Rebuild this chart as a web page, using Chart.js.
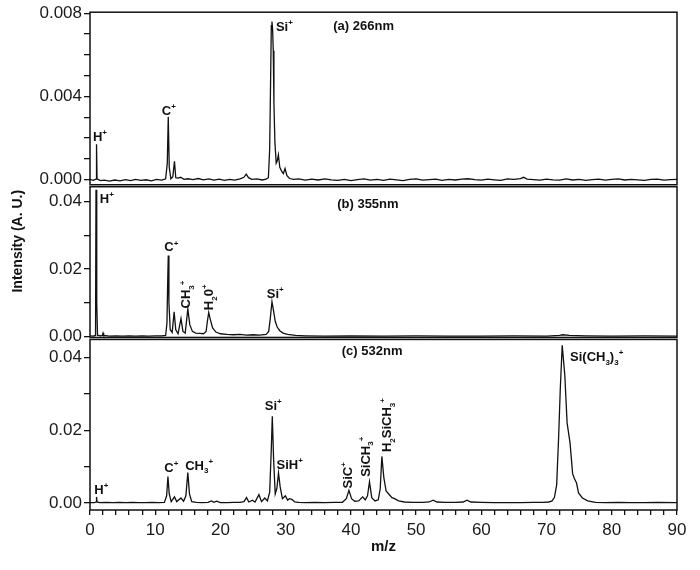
<!DOCTYPE html>
<html>
<head>
<meta charset="utf-8">
<script src="https://cdn.jsdelivr.net/npm/chart.js@4.4.0/dist/chart.umd.min.js"></script>
<style>
  html, body { margin: 0; padding: 0; background: #fff; }
  #wrap { width: 700px; height: 570px; }
</style>
</head>
<body>
<div id="wrap"><canvas id="spectra"></canvas></div>
<script>
// mass spectra [m/z, intensity]
const spectrum266 = [
  [0,0.00002],[0.5,-0.00003],[0.92,0.00003],[1.0,0.00171],[1.08,0.00004],[1.6,-0.00004],[2.2,-0.00002],[3.0,-0.00006],
  [3.8,-0.00001],[4.6,-0.00005],[5.4,0.00001],[6.2,-0.00004],[7.0,0.00002],[7.8,-0.00003],[8.6,0.0],[9.4,-0.00005],
  [10.2,0.00002],[11.0,-0.00002],[11.6,0.00005],[11.85,0.0008],[12.0,0.00303],[12.15,0.0006],[12.4,0.00005],[12.7,0.00015],
  [12.95,0.00089],[13.15,0.0001],[13.5,0.00008],[13.9,0.00012],[14.4,0.00002],[15.0,0.00005],[15.8,0.00001],[16.6,0.00006],
  [17.4,0.0],[18.2,0.00004],[19.0,-0.00002],[19.8,0.00003],[20.6,-0.00003],[21.4,0.00002],[22.2,-0.00002],[23.0,0.00004],
  [23.6,0.00012],[23.95,0.00027],[24.3,0.0001],[24.8,0.00002],[25.6,0.00004],[26.4,-0.00001],[27.0,0.00003],[27.35,0.0001],
  [27.55,0.0015],[27.7,0.005],[27.8,0.0074],[27.9,0.0076],[28.0,0.0072],[28.1,0.0062],[28.2,0.0037],[28.35,0.0018],
  [28.55,0.0008],[28.7,0.0009],[28.88,0.0012],[29.1,0.0006],[29.4,0.0004],[29.65,0.0003],[29.9,0.00054],[30.2,0.0002],
  [30.6,0.00006],[31.2,0.00002],[32,0.00004],[33,-0.00002],[34,0.00003],[35,-0.00001],[36,0.00004],[37,0.0],
  [38,-0.00003],[39,0.00002],[40,-0.00004],[41,0.00001],[42,0.00004],[43,-0.00002],[44,0.00002],[45,-0.00003],
  [46,0.00003],[47,0.0],[48,-0.00004],[49,0.00002],[50,0.00004],[51,-0.00002],[52,0.00001],[53,0.00003],
  [54,-0.00003],[55,0.00002],[56,-0.00001],[57,0.00003],[58,0.00005],[59,0.00001],[60,-0.00002],[61,0.00003],
  [62,0.0],[63,-0.00003],[64,0.00004],[65,0.00002],[66,0.00006],[66.5,0.00012],[67,0.00003],[68,0.00001],
  [69,-0.00002],[70,0.00003],[71,0.0],[72,-0.00002],[73,0.00004],[74,-0.00001],[75,0.00002],[76,-0.00003],
  [77,0.00001],[78,0.00003],[79,-0.00002],[80,0.00002],[81,0.00004],[82,-0.00001],[83,0.00002],[84,0.0],
  [85,-0.00003],[86,0.00002],[87,0.00003],[88,-0.00002],[89,0.00001],[90,0.00002]
];
const spectrum355 = [
  [0,0.0002],[0.5,0.0001],[0.85,0.0003],[0.92,0.0435],[1.0,0.012],[1.07,0.010],[1.15,0.0004],[1.6,0.0002],
  [1.9,0.0003],[2.0,0.0010],[2.1,0.0003],[3,0.0001],[4,0.0002],[5,0.0001],[6,0.0002],[7,0.0001],
  [8,0.0002],[9,0.0001],[10,0.0002],[11,0.0002],[11.6,0.0003],[11.8,0.004],[11.9,0.015],[12.0,0.024],
  [12.1,0.010],[12.3,0.002],[12.6,0.0012],[12.9,0.0073],[13.15,0.0020],[13.5,0.0008],[13.95,0.0053],[14.25,0.0015],
  [14.6,0.0010],[15.0,0.0082],[15.3,0.0035],[15.7,0.0015],[16.2,0.0010],[16.8,0.0009],[17.4,0.0008],[17.8,0.0015],
  [18.0,0.0045],[18.2,0.0071],[18.45,0.0050],[18.8,0.0025],[19.3,0.0013],[20,0.0008],[21,0.0006],[22,0.0005],
  [23,0.0006],[24,0.0004],[25,0.0005],[26,0.0004],[27,0.0006],[27.4,0.0015],[27.65,0.0055],[27.9,0.0103],
  [28.15,0.0075],[28.4,0.0045],[28.7,0.0028],[29.1,0.0017],[29.6,0.0010],[30.3,0.0006],[31.5,0.0003],[33,0.0002],
  [36,0.0001],[40,0.0002],[45,0.0001],[50,0.0002],[55,0.0001],[60,0.0001],[65,0.0002],[70,0.0001],
  [72,0.0003],[72.5,0.0005],[73.5,0.0003],[76,0.0002],[80,0.0001],[85,0.0002],[90,0.0001]
];
const spectrum532 = [
  [0,0.0001],[0.7,0.0001],[0.92,0.0003],[1.0,0.0017],[1.08,0.0003],[1.5,0.0001],[2.5,0.0002],[3.5,0.0001],
  [4.5,0.0002],[5.5,0.0001],[6.5,0.0002],[7.5,0.0001],[8.5,0.0001],[9.5,0.0002],[10.5,0.0001],[11.4,0.0002],
  [11.75,0.002],[11.95,0.0073],[12.15,0.0025],[12.45,0.0004],[12.95,0.0017],[13.3,0.0004],[13.95,0.0014],[14.35,0.0005],
  [14.7,0.002],[15.0,0.0084],[15.25,0.0025],[15.6,0.0004],[16.3,0.0002],[17.2,0.0001],[18.1,0.0002],[18.6,0.0006],
  [19.0,0.0002],[19.4,0.0005],[20,0.0001],[21,0.0001],[22,0.0002],[23,0.0002],[23.6,0.0004],[24.0,0.0015],
  [24.35,0.0003],[24.9,0.0008],[25.3,0.0003],[25.9,0.0023],[26.3,0.0004],[26.8,0.0014],[27.2,0.0006],[27.55,0.003],
  [27.8,0.015],[27.95,0.0238],[28.15,0.012],[28.4,0.0025],[28.65,0.004],[28.9,0.0083],[29.15,0.0045],[29.5,0.0012],
  [29.95,0.002],[30.3,0.0008],[30.55,0.0012],[30.95,0.001],[31.4,0.0003],[32,0.0002],[33,0.0001],[34.5,0.0002],
  [36,0.0001],[37.5,0.0002],[38.7,0.0002],[39.3,0.0012],[39.7,0.0035],[40.1,0.0012],[40.6,0.0005],[41.2,0.0006],
  [41.8,0.0017],[42.2,0.0009],[42.55,0.002],[42.85,0.0058],[43.2,0.0015],[43.7,0.0006],[44.2,0.0009],[44.5,0.004],
  [44.75,0.0128],[45.05,0.007],[45.4,0.0033],[45.8,0.0025],[46.3,0.0015],[46.7,0.0012],[47.3,0.0006],[48.2,0.0003],
  [49.5,0.0002],[51,0.0002],[52,0.0003],[52.6,0.0008],[53.2,0.0003],[54.5,0.0002],[56,0.0002],[57.2,0.0003],
  [57.8,0.0008],[58.4,0.0003],[60,0.0002],[62,0.0001],[64,0.0001],[66,0.0001],[68,0.0002],[69.5,0.0002],
  [70.3,0.0003],[70.8,0.0005],[71.2,0.0015],[71.55,0.005],[71.85,0.018],[72.1,0.031],[72.4,0.0433],[72.8,0.035],
  [73.15,0.022],[73.6,0.0165],[74.0,0.008],[74.3,0.0066],[74.6,0.0055],[74.9,0.0028],[75.5,0.0014],[76.3,0.0006],
  [77.5,0.0002],[79,0.0001],[81,0.0002],[83,0.0001],[85,0.0001],[87,0.0002],[90,0.0001]
];

// tick labels
const xTickLabels = [0, 10, 20, 30, 40, 50, 60, 70, 80, 90];
const yTickLabelsA = [0, 0.004, 0.008];
const yTickLabelsBC = [0, 0.02, 0.04];

// peak labels ('^' superscript, '_' subscript), anchored at m/z and intensity
const labels266 = [
  { text: 'H^+', mz: 0.45, val: 0.00186 },
  { text: 'C^+', mz: 11.0, val: 0.00311 },
  { text: 'Si^+', mz: 28.5, val: 0.00716 },
  { text: '(a) 266nm', mz: 37.3, val: 0.00719 }
];
const labels355 = [
  { text: 'H^+', mz: 1.5, val: 0.0397 },
  { text: '(b) 355nm', mz: 37.9, val: 0.0382 },
  { text: 'C^+', mz: 11.4, val: 0.0252 },
  { text: 'CH_3^+', mz: 15.4, val: 0.0083, rot: true },
  { text: 'H_20^+', mz: 18.9, val: 0.0078, rot: true },
  { text: 'Si^+', mz: 27.1, val: 0.0115 }
];
const labels532 = [
  { text: '(c) 532nm', mz: 38.6, val: 0.0405 },
  { text: 'H^+', mz: 0.66, val: 0.0026 },
  { text: 'C^+', mz: 11.4, val: 0.0085 },
  { text: 'CH_3^+', mz: 14.6, val: 0.0092 },
  { text: 'Si^+', mz: 26.8, val: 0.0255 },
  { text: 'SiH^+', mz: 28.6, val: 0.0094 },
  { text: 'SiC^+', mz: 40.2, val: 0.0040, rot: true },
  { text: 'SiCH_3^+', mz: 42.9, val: 0.0072, rot: true },
  { text: 'H_2SiCH_3^+', mz: 46.2, val: 0.0140, rot: true },
  { text: 'Si(CH_3)_3^+', mz: 73.6, val: 0.0390 }
];

const FONT = '"Liberation Sans", Arial, sans-serif';
const INK = '#111';

function majorOnly(list, digits) {
  return v => list.some(t => Math.abs(t - v) < 1e-9) ? v.toFixed(digits) : '';
}

function drawRich(ctx, str, x, y, size, rotate) {
  const parts = [];
  for (let i = 0; i < str.length; i++) {
    const ch = str[i];
    if ((ch === '^' || ch === '_') && i + 1 < str.length) {
      parts.push({ t: str[i + 1], s: ch === '^' ? 1 : -1 });
      i++;
    } else if (parts.length && parts[parts.length - 1].s === 0) {
      parts[parts.length - 1].t += ch;
    } else {
      parts.push({ t: ch, s: 0 });
    }
  }
  ctx.save();
  ctx.translate(x, y);
  if (rotate) ctx.rotate(-Math.PI / 2);
  ctx.textAlign = 'left';
  ctx.textBaseline = 'alphabetic';
  let cx = 0;
  parts.forEach(p => {
    const fs = p.s ? Math.round(size * 0.62) : size;
    ctx.font = 'bold ' + fs + 'px ' + FONT;
    const dy = p.s === 1 ? -size * 0.45 : (p.s === -1 ? size * 0.28 : 0);
    ctx.fillText(p.t, cx, dy);
    cx += ctx.measureText(p.t).width;
  });
  ctx.restore();
}

const panels = [
  { id: 'ya', labels: labels266 },
  { id: 'yb', labels: labels355 },
  { id: 'yc', labels: labels532 }
];

const framesAndLabels = {
  id: 'framesAndLabels',
  afterDatasetsDraw(chart) {
    const { ctx, chartArea } = chart;
    const xs = chart.scales.x;
    ctx.save();
    ctx.strokeStyle = INK;
    ctx.lineWidth = 1.5;
    panels.forEach((p, i) => {
      const s = chart.scales[p.id];
      const top = s.top + (i > 0 ? 1 : 0);
      const bottom = s.bottom - (i < panels.length - 1 ? 1 : 0);
      ctx.strokeRect(chartArea.left, top, chartArea.right - chartArea.left, bottom - top);
    });
    ctx.fillStyle = INK;
    panels.forEach(p => {
      const s = chart.scales[p.id];
      p.labels.forEach(l => {
        drawRich(ctx, l.text, xs.getPixelForValue(l.mz), s.getPixelForValue(l.val), 13, l.rot);
      });
    });
    // shared y-axis title
    const ya = chart.scales.ya, yc = chart.scales.yc;
    ctx.save();
    ctx.translate(ya.left + 18, ya.top + (yc.bottom - ya.top) * 0.46);
    ctx.rotate(-Math.PI / 2);
    ctx.font = 'bold 14px ' + FONT;
    ctx.textAlign = 'center';
    ctx.textBaseline = 'middle';
    ctx.fillText('Intensity (A. U.)', 0, 0);
    ctx.restore();
    ctx.restore();
  }
};

function yAxis(weight, min, max, step, list, digits) {
  return {
    type: 'linear',
    position: 'left',
    stack: 'panels',
    stackWeight: weight,
    min: min,
    max: max,
    border: { display: false },
    grid: { drawOnChartArea: false, drawTicks: true, tickLength: 6, color: INK, lineWidth: 1.3 },
    ticks: {
      stepSize: step,
      includeBounds: false,
      autoSkip: false,
      padding: 2,
      color: '#1a1a1a',
      font: { family: FONT, size: 17 },
      callback: majorOnly(list, digits)
    },
    afterFit: s => { s.width = 90; }
  };
}

const lineStyle = { borderColor: INK, backgroundColor: INK, borderWidth: 1.3, pointRadius: 0, tension: 0, fill: false };

new Chart(document.getElementById('spectra'), {
  type: 'line',
  data: {
    datasets: [
      Object.assign({ data: spectrum266.map(d => ({ x: d[0], y: d[1] })), yAxisID: 'ya' }, lineStyle),
      Object.assign({ data: spectrum355.map(d => ({ x: d[0], y: d[1] })), yAxisID: 'yb' }, lineStyle),
      Object.assign({ data: spectrum532.map(d => ({ x: d[0], y: d[1] })), yAxisID: 'yc' }, lineStyle)
    ]
  },
  options: {
    responsive: true,
    maintainAspectRatio: false,
    animation: false,
    layout: { padding: { top: 8, right: 23, left: 0, bottom: 0 } },
    plugins: { legend: { display: false }, tooltip: { enabled: false }, title: { display: false } },
    scales: {
      x: {
        type: 'linear',
        position: 'bottom',
        min: 0,
        max: 90,
        border: { display: false },
        grid: { drawOnChartArea: false, drawTicks: true, tickLength: 5, color: INK, lineWidth: 1.3 },
        ticks: {
          stepSize: 2,
          includeBounds: false,
          autoSkip: false,
          maxRotation: 0,
          padding: 5,
          color: '#1a1a1a',
          font: { family: FONT, size: 17 },
          callback: majorOnly(xTickLabels, 0)
        },
        title: {
          display: true,
          text: 'm/z',
          color: INK,
          font: { family: FONT, size: 15, weight: 'bold' },
          padding: { top: 0, bottom: 14 }
        },
        afterFit: s => { s.height = 60; }
      },
      // stacked left axes are laid out top-down from the last one defined
      yc: yAxis(173, -0.0019, 0.04517, 0.01, yTickLabelsBC, 2),
      yb: yAxis(154, -0.00059, 0.0447, 0.01, yTickLabelsBC, 2),
      ya: yAxis(175, -0.000286, 0.008048, 0.001, yTickLabelsA, 3)
    }
  },
  plugins: [framesAndLabels]
});
</script>
</body>
</html>
